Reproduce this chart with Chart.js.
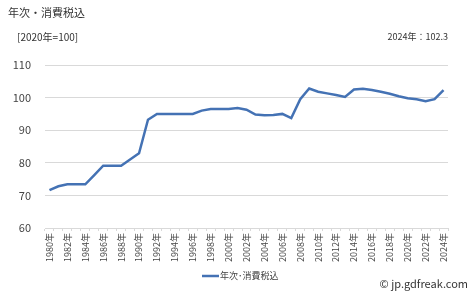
<!DOCTYPE html>
<html>
<head>
<meta charset="utf-8">
<script src="https://cdn.jsdelivr.net/npm/chart.js@4"></script>
<style>
  html, body { margin: 0; padding: 0; background: #fff; }
  #wrap { width: 474px; height: 292px; }
</style>
</head>
<body>
<div id="wrap"><canvas id="chart-price" width="474" height="292"></canvas></div>
<script>
// 年次・消費税込 price index (2020=100)
const YEARS = [];
for (let y = 1980; y <= 2024; y++) YEARS.push(y + "年");

const INDEX_VALUES = [
  71.6, 72.8, 73.4, 73.4, 73.4, 76.2, 79.1, 79.1, 79.1, 81.0,
  82.9, 93.2, 95.0, 95.0, 95.0, 95.0, 95.0, 96.0, 96.5, 96.5,
  96.5, 96.8, 96.3, 94.8, 94.6, 94.7, 95.0, 93.7, 99.5, 102.8,
  101.8, 101.3, 100.8, 100.2, 102.5, 102.7, 102.3, 101.8, 101.2, 100.4,
  99.8, 99.5, 98.9, 99.5, 102.3
];

const Y_TICKS = [60, 70, 80, 90, 100, 110];

const SERIES_LABEL = "年次･消費税込";
const TITLE_TEXT = "年次・消費税込";
const BASE_TEXT = "[2020年=100]";
const LATEST_TEXT = "2024年：102.3";
const CREDIT_TEXT = "© jp.gdfreak.com";

const FONT = "'Noto Sans CJK JP', 'Noto Sans', sans-serif";
const LINE_COLOR = "#4472b4";

// 文字類はキャンバスに直接描く
const textPlugin = {
  id: "textPlugin",
  afterDraw(chart) {
    const ctx = chart.ctx;
    ctx.save();
    ctx.fillStyle = "#333";
    ctx.textBaseline = "middle";

    ctx.font = "11px " + FONT;
    ctx.textAlign = "left";
    ctx.fillText(TITLE_TEXT, 8, 13);

    ctx.font = "10px " + FONT;
    ctx.fillText(BASE_TEXT, 17, 37);
    ctx.font = "9px " + FONT;
    ctx.textAlign = "right";
    ctx.fillText(LATEST_TEXT, 448, 37);

    // legend
    ctx.strokeStyle = LINE_COLOR;
    ctx.lineWidth = 2.5;
    ctx.beginPath();
    ctx.moveTo(202, 276);
    ctx.lineTo(219, 276);
    ctx.stroke();
    ctx.textAlign = "left";
    ctx.fillStyle = "#444";
    ctx.font = "9px " + FONT;
    ctx.fillText(SERIES_LABEL, 220, 276);

    ctx.font = "11px " + FONT;
    ctx.textAlign = "right";
    ctx.fillStyle = "#333";
    ctx.fillText(CREDIT_TEXT, 468, 284);
    ctx.restore();
  }
};

new Chart(document.getElementById("chart-price").getContext("2d"), {
  type: "line",
  data: {
    labels: YEARS,
    datasets: [{
      label: SERIES_LABEL,
      data: INDEX_VALUES,
      borderColor: LINE_COLOR,
      borderWidth: 2.5,
      pointRadius: 0,
      tension: 0,
      fill: false
    }]
  },
  options: {
    responsive: false,
    animation: false,
    layout: { padding: { top: 65, left: 0, right: 26, bottom: 0 } },
    plugins: {
      legend: { display: false },
      title: { display: false },
      tooltip: { enabled: false }
    },
    scales: {
      x: {
        offset: true,
        afterFit: (scale) => { scale.height = 64; },
        grid: {
          drawOnChartArea: false,
          drawTicks: true,
          tickLength: 3,
          color: "#d9d9d9",
          offset: true
        },
        border: { display: true, color: "#d9d9d9" },
        ticks: {
          autoSkip: false,
          minRotation: 90,
          maxRotation: 90,
          padding: 2,
          color: "#444",
          font: { family: FONT, size: 9 },
          callback: function (value, index) {
            return index % 2 === 0 ? this.getLabelForValue(value) : "";
          }
        }
      },
      y: {
        min: 60,
        max: 110,
        afterFit: (scale) => { scale.width = 45; },
        afterBuildTicks: (scale) => {
          scale.ticks = Y_TICKS.map(v => ({ value: v }));
        },
        grid: { color: "#d9d9d9", drawTicks: false },
        border: { display: false },
        ticks: {
          padding: 14,
          color: "#444",
          font: { family: FONT, size: 11 }
        }
      }
    }
  },
  plugins: [textPlugin]
});
</script>
</body>
</html>
